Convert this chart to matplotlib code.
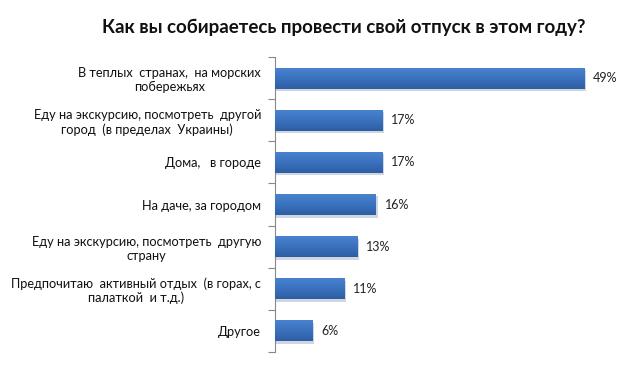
import matplotlib
matplotlib.use("Agg")
import matplotlib.pyplot as plt
import numpy as np
from matplotlib.colors import LinearSegmentedColormap

categories = [
    "В теплых  странах,  на морских\nпобережьях",
    "Еду на экскурсию, посмотреть  другой\nгород  (в пределах  Украины)",
    "Дома,   в городе",
    "На даче, за городом",
    "Еду на экскурсию, посмотреть  другую\nстрану",
    "Предпочитаю  активный отдых  (в горах, с\nпалаткой  и т.д.)",
    "Другое",
]
values = [49, 17, 17, 16, 13, 11, 6]
title = "Как вы собираетесь провести свой отпуск в этом году?"

plt.rcParams['font.family'] = ['Lato', 'DejaVu Sans']

fig = plt.figure(figsize=(6.36, 3.72), dpi=100)
ax = fig.add_axes([275/636, 1-352/372, 1-275/636-0.02, (352-57)/372])

n = len(categories)
y = np.arange(n)
bars = ax.barh(y, values, height=0.5, color="#3b72bf", zorder=2)

cmap = LinearSegmentedColormap.from_list("g", ["#4a84d0", "#3b72bf", "#2d5ea3"])
grad = np.linspace(0, 1, 50).reshape(-1, 1)
for b in bars:
    x0, y0 = b.get_x(), b.get_y()
    w, h = b.get_width(), b.get_height()
    ax.add_patch(plt.Rectangle((x0, y0 + 0.06), w + 0.25, h, color="#cfd6e0", zorder=1, lw=0))
    im = ax.imshow(grad, extent=[x0, x0 + w, y0 + h, y0], aspect="auto", cmap=cmap, zorder=3,
                   interpolation="bicubic")
    im.set_clip_path(b)

for yi, v in zip(y, values):
    ax.text(v + 1.4, yi, f"{v}%", va="center", ha="left", fontsize=9, color="#222222")

ax.set_xlim(0, 55.2)
ax.set_ylim(n - 0.5, -0.5)
ax.set_yticks(y)
ax.set_yticklabels(categories, fontsize=9.2, color="#111111", ha="right")
ax.tick_params(axis="y", which="major", length=0, pad=10)
ax.set_yticks(np.arange(-0.5, n, 1), minor=True)
ax.tick_params(axis="y", which="minor", length=5, color="#888888", width=0.8)
for lbl in ax.get_yticklabels():
    lbl.set_multialignment("center")
ax.set_xticks([])
for s in ["top", "right", "bottom"]:
    ax.spines[s].set_visible(False)
ax.spines["left"].set_color("#888888")
ax.spines["left"].set_linewidth(0.8)

fig.text(0.541, 1-27/372, title, ha="center", va="center", fontsize=13.5, fontweight="bold", color="#111111")

fig.savefig("out.png", dpi=100)
